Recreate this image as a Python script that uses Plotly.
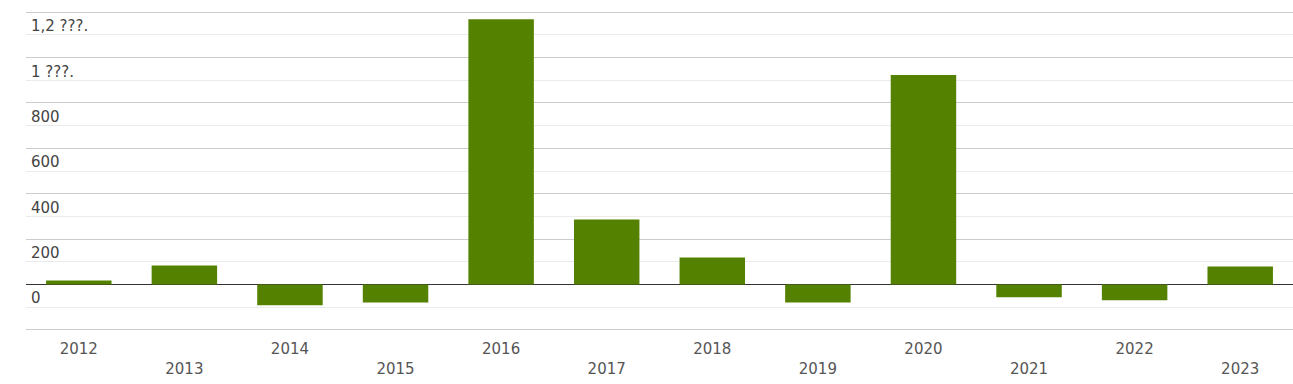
import plotly.graph_objects as go

years = ["2012", "2013", "2014", "2015", "2016", "2017", "2018", "2019", "2020", "2021", "2022", "2023"]
values = [18, 84, -92, -79, 1169, 286, 119, -79, 923, -56, -69, 79]

tick_vals = [-200, 0, 200, 400, 600, 800, 1000, 1200]
tick_text = ["", "0", "200", "400", "600", "800", "1 ???.", "1,2 ???."]

x_text = [y if i % 2 == 0 else "<br>" + y for i, y in enumerate(years)]

fig = go.Figure(go.Bar(x=years, y=values, marker=dict(color="#548200", line=dict(width=0))))

fig.update_layout(
    width=1293, height=384,
    margin=dict(l=26, r=0, t=11, b=53),
    paper_bgcolor="white", plot_bgcolor="white",
    bargap=0.38, showlegend=False,
    font=dict(family="DejaVu Sans", size=15, color="#444"),
)
fig.update_xaxes(
    type="category", tickvals=years, ticktext=x_text,
    range=[-0.5, len(years) - 0.5], autorange=False,
    showgrid=False, showline=False, ticks="", ticklen=0,
    ticklabelstandoff=7,
    tickfont=dict(size=15, color="#555"),
)
fig.update_yaxes(
    range=[-205, 1205], tickvals=tick_vals, showticklabels=False,
    showgrid=True, gridcolor="#cccccc", gridwidth=1,
    zeroline=True, zerolinecolor="#333333", zerolinewidth=1,
    minor=dict(dtick=100, tick0=0, showgrid=True, gridcolor="#ebebeb", gridwidth=1),
    showline=False,
)
for v, t in zip(tick_vals, tick_text):
    if t:
        fig.add_annotation(
            x=0, xref="paper", y=v, yref="y", text=t, showarrow=False,
            xanchor="left", yanchor="middle", xshift=3, yshift=-14,
            font=dict(family="DejaVu Sans", size=15, color="#444"),
        )
fig.write_html("out.html")
